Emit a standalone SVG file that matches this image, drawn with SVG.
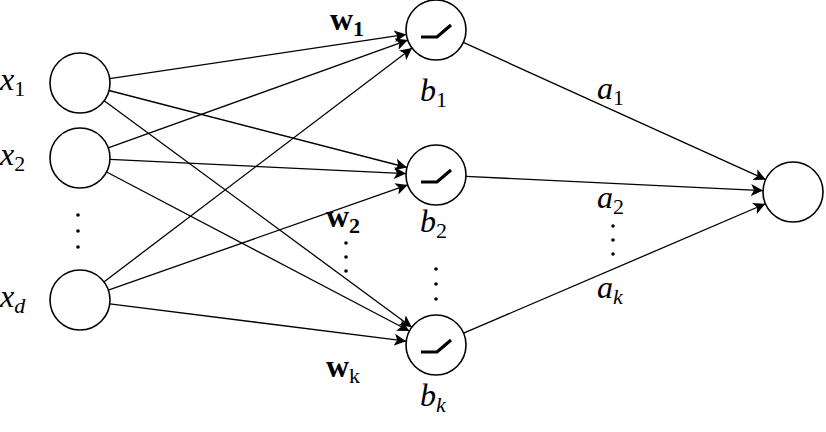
<svg xmlns="http://www.w3.org/2000/svg" width="826" height="432" viewBox="0 0 826 432">
<style>
.n{fill:#fff;stroke:#000;stroke-width:1.6}
.e{stroke:#000;stroke-width:1.3;fill:none;marker-end:url(#ah)}
.r{stroke:#000;stroke-width:3.2;fill:none}
text{font-family:"Liberation Serif","DejaVu Serif",serif;font-style:italic;font-size:32px;fill:#000}
.s{font-size:22px;font-style:normal}
.si{font-size:22px}
.w{font-weight:bold;font-style:normal}
.d{fill:#000}
</style>
<defs>
<marker id="ah" viewBox="0 0 10 10" refX="10" refY="5" markerWidth="12" markerHeight="12" markerUnits="userSpaceOnUse" orient="auto">
<path d="M0,0 L10,5 L0,10 L2.5,5 Z" fill="#000"/>
</marker>
</defs>
<g id="edges">
<line class="e" x1="109.7" y1="78.6" x2="406.3" y2="34.4"/>
<line class="e" x1="109" y1="90.5" x2="407" y2="167.5"/>
<line class="e" x1="104.2" y1="100.8" x2="411.8" y2="327.2"/>
<line class="e" x1="108.2" y1="147.9" x2="407.8" y2="40.1"/>
<line class="e" x1="110" y1="159.4" x2="406" y2="173.6"/>
<line class="e" x1="106.6" y1="172" x2="409.4" y2="331"/>
<line class="e" x1="103.9" y1="281.9" x2="412.1" y2="48.1"/>
<line class="e" x1="108.3" y1="290.1" x2="407.7" y2="184.9"/>
<line class="e" x1="109.8" y1="303.8" x2="406.2" y2="341.2"/>
<line class="e" x1="463.3" y1="42.4" x2="765.7" y2="179.6"/>
<line class="e" x1="466" y1="176.4" x2="763" y2="190.6"/>
<line class="e" x1="463.6" y1="333.2" x2="765.4" y2="203.8"/>
</g>
<g id="in1"><circle class="n" cx="80" cy="83" r="30"/><text x="0" y="90">x<tspan class="s" dy="6">1</tspan></text></g>
<g id="in2"><circle class="n" cx="80" cy="158" r="30"/><text x="0" y="165">x<tspan class="s" dy="6">2</tspan></text></g>
<g id="ind"><circle class="n" cx="80" cy="300" r="30"/><text x="0" y="307">x<tspan class="si" dy="6">d</tspan></text></g>
<g id="indots"><circle class="d" cx="78" cy="215" r="1.8"/><circle class="d" cx="78" cy="231" r="1.8"/><circle class="d" cx="78" cy="247" r="1.8"/></g>
<g id="h1"><circle class="n" cx="436" cy="30" r="30"/><path class="r" d="M421,37 H437 L451,25"/><text x="420" y="101">b<tspan class="s" dy="6">1</tspan></text></g>
<g id="h2"><circle class="n" cx="436" cy="175" r="30"/><path class="r" d="M421,182 H437 L451,170"/><text x="420" y="232">b<tspan class="s" dy="6">2</tspan></text></g>
<g id="hk"><circle class="n" cx="436" cy="345" r="30"/><path class="r" d="M421,352 H437 L451,340"/><text x="420" y="406">b<tspan class="si" dy="6">k</tspan></text></g>
<g id="hdots"><circle class="d" cx="436" cy="269" r="1.8"/><circle class="d" cx="436" cy="284" r="1.8"/><circle class="d" cx="436" cy="299" r="1.8"/></g>
<g id="out"><circle class="n" cx="793" cy="192" r="30"/></g>
<g id="wlabels">
<text class="w" x="330" y="30">w<tspan class="s" dy="6">1</tspan></text>
<text class="w" x="326" y="227">w<tspan class="s" dy="6">2</tspan></text>
<circle class="d" cx="346" cy="243" r="1.8"/><circle class="d" cx="346" cy="257" r="1.8"/><circle class="d" cx="346" cy="271" r="1.8"/>
<text class="w" x="326" y="377">w<tspan class="si" dy="6" style="font-weight:normal">k</tspan></text>
</g>
<g id="alabels">
<text x="597" y="99">a<tspan class="s" dy="6">1</tspan></text>
<text x="597" y="208">a<tspan class="s" dy="6">2</tspan></text>
<circle class="d" cx="613" cy="226" r="1.8"/><circle class="d" cx="613" cy="240" r="1.8"/><circle class="d" cx="613" cy="254" r="1.8"/>
<text x="597" y="298">a<tspan class="si" dy="6">k</tspan></text>
</g>
</svg>
